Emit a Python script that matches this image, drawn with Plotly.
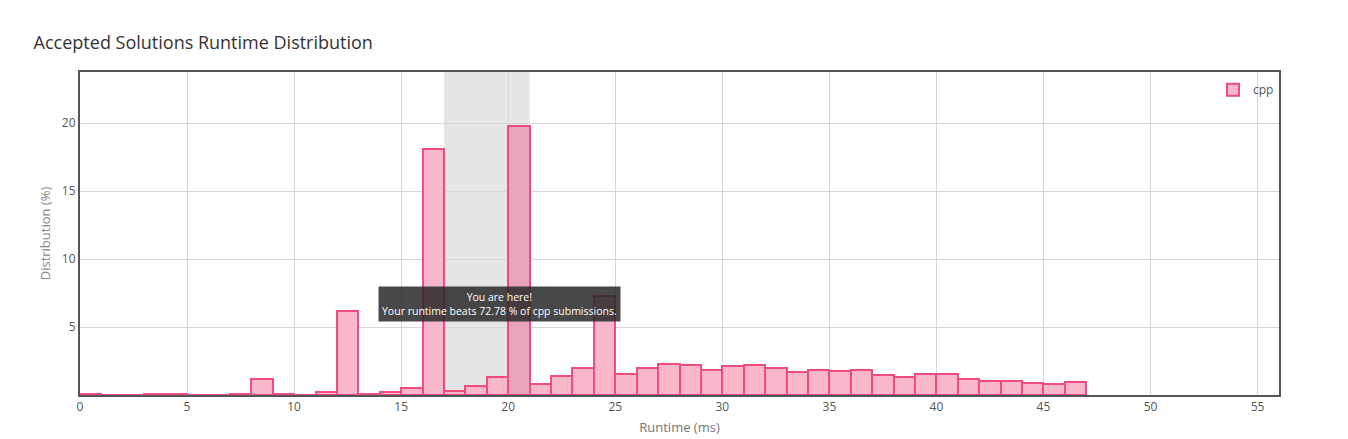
import plotly.graph_objects as go

runtime_ms = list(range(47))
distribution = [0.1, 0, 0, 0.07, 0.1, 0, 0, 0.07, 1.18, 0.05,
                0, 0.2, 6.2, 0.1, 0.2, 0.54, 18.1, 0.27, 0.69, 1.32,
                19.8, 0.8, 1.42, 2.0, 7.3, 1.57, 2.0, 2.3, 2.18, 1.86,
                2.16, 2.23, 1.96, 1.72, 1.81, 1.76, 1.81, 1.45, 1.32, 1.52,
                1.57, 1.2, 1.05, 1.05, 0.9, 0.83, 0.96]
my_bin = 20
band = [17, 21]
x_ticks = list(range(0, 56, 5))
y_ticks = [5, 10, 15, 20]

fills = ["#e8a6bc" if r == my_bin else "#f9b7cb" for r in runtime_ms]
fig = go.Figure(go.Bar(
    x=[r + 0.5 for r in runtime_ms], y=distribution, width=1, name="cpp",
    marker=dict(color=fills, line=dict(color="#f04c7c", width=2)),
    showlegend=True))

fig.add_shape(type="rect", xref="x", yref="paper", x0=band[0], x1=band[1], y0=0, y1=1,
              fillcolor="#e6e6e6", line_width=0, layer="below")
fig.add_annotation(x=19.6, y=5.35, xref="x", yref="y", showarrow=False,
                   text="You are here!<br>Your runtime beats 72.78 % of cpp submissions.",
                   bgcolor="rgba(40,40,40,0.85)", font=dict(color="white", size=10.5, family="Open Sans"),
                   borderpad=3, yanchor="bottom")

fig.update_layout(
    width=1348, height=439, margin=dict(l=72, r=77, t=64, b=52, autoexpand=False),
    paper_bgcolor="white", plot_bgcolor="white", bargap=0,
    font=dict(family="Open Sans", color="#555", size=12),
    title=dict(text="Accepted Solutions Runtime Distribution", x=0.019, xanchor="left",
               y=0.922, yanchor="middle", font=dict(size=18, color="#333")),
    legend=dict(x=1.0, y=0.99, xanchor="right", yanchor="top", bgcolor="rgba(0,0,0,0)",
                itemwidth=30, font=dict(size=12, color="#555")),
    xaxis=dict(range=[0, 56], tickvals=x_ticks, showgrid=True, gridcolor="#d6d6d6",
               automargin=False,
               title=dict(text="Runtime (ms)", font=dict(color="#777", size=13), standoff=8),
               showline=True, linecolor="#555", linewidth=2, mirror=True, zeroline=False),
    yaxis=dict(range=[0, 23.75], tickvals=y_ticks, showgrid=True, gridcolor="#d6d6d6",
               automargin=False,
               title=dict(text="Distribution (%)", font=dict(color="#888", size=13), standoff=8),
               showline=True, linecolor="#555", linewidth=2, mirror=True, zeroline=False),
)
fig.write_html("out.html")
